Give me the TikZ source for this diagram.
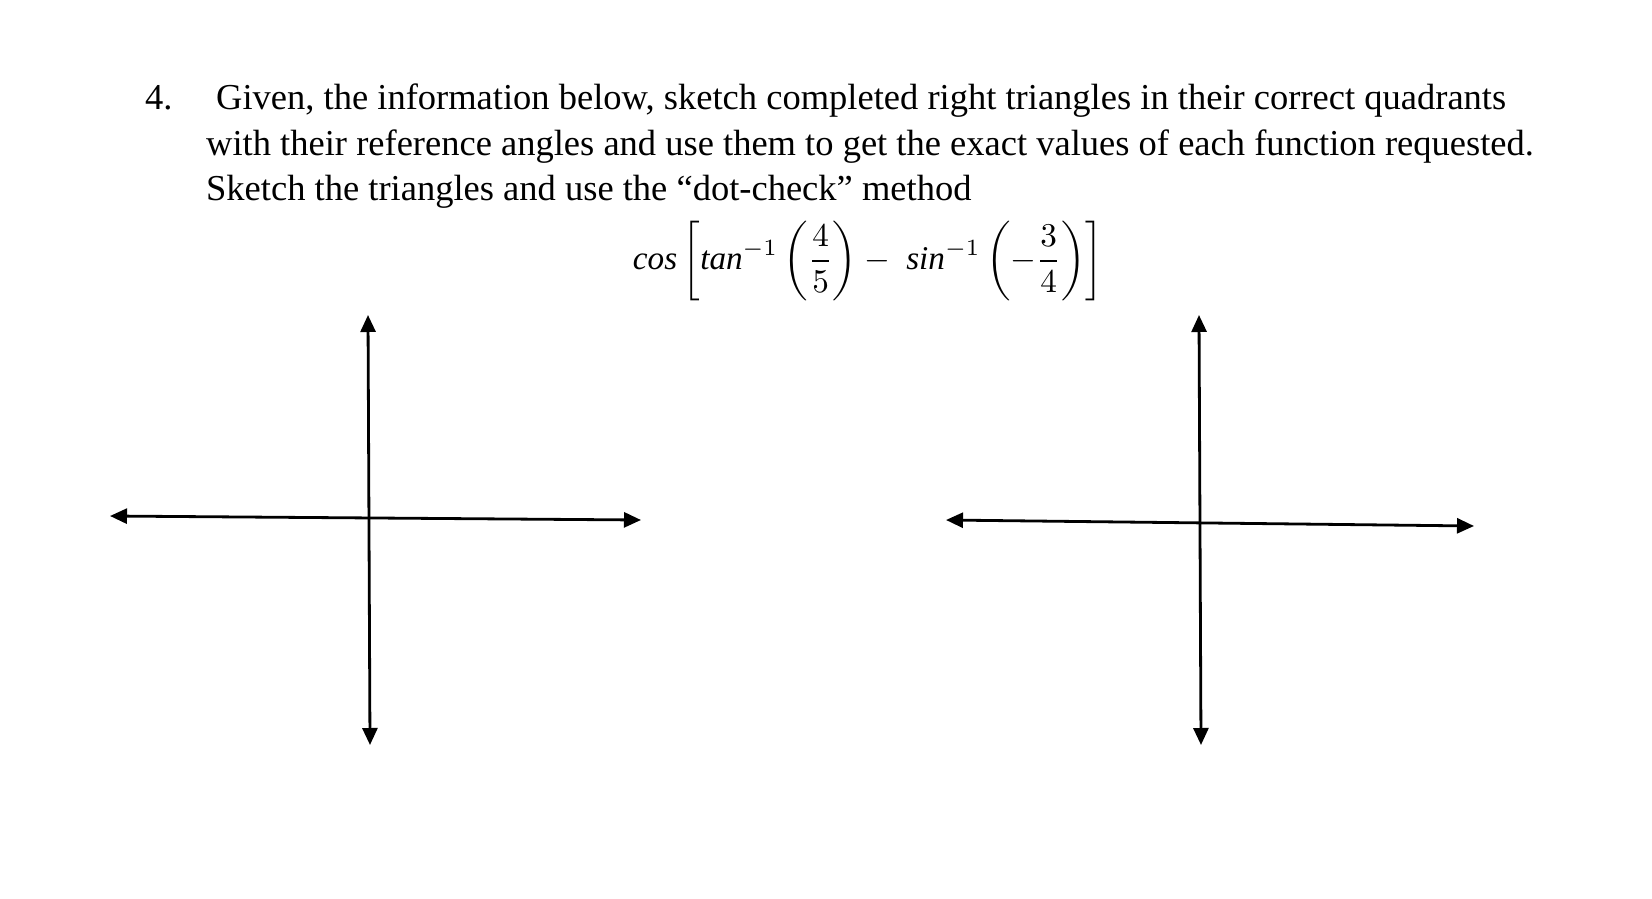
\documentclass[tikz,border=0pt]{standalone}
\usepackage{fontspec}
\usepackage{graphicx}
\setmainfont{Liberation Serif}
\usetikzlibrary{arrows.meta}
\begin{document}
\begin{tikzpicture}[x=1pt,y=-1pt,
  axis/.style={line width=2.8pt,{Triangle[length=17pt,width=15pt]}-{Triangle[length=17pt,width=15pt]}},
  txt/.style={anchor=base west,inner sep=0pt,font=\fontsize{36.5}{46}\selectfont}]
\useasboundingbox (0,0) rectangle (1652,899);
\node[txt] (n) at (145,109) {4.};
\node[txt] (l1) at (216,109) {Given, the information below, sketch completed right triangles in their correct quadrants};
\node[txt] (l2) at (206,155) {with their reference angles and use them to get the exact values of each function requested.};
\node[txt] (l3) at (206,200) {Sketch the triangles and use the “dot-check” method};
\node[inner sep=0pt] (f) at (868,261)
  {\resizebox{470pt}{!}{$\displaystyle\mathit{cos}\left[\mathit{tan}^{-1}\left(\frac{4}{5}\right)-\ \mathit{sin}^{-1}\left(-\frac{3}{4}\right)\right]$}};
\coordinate (at) at (368,315); \coordinate (ab) at (370,745);
\coordinate (al) at (110,516); \coordinate (ar) at (641,520);
\coordinate (bt) at (1199,315); \coordinate (bb) at (1201,745);
\coordinate (bl) at (946,520); \coordinate (br) at (1474,526);
\draw[axis] (at) -- (ab);
\draw[axis] (al) -- (ar);
\draw[axis] (bt) -- (bb);
\draw[axis] (bl) -- (br);
\end{tikzpicture}
\end{document}
